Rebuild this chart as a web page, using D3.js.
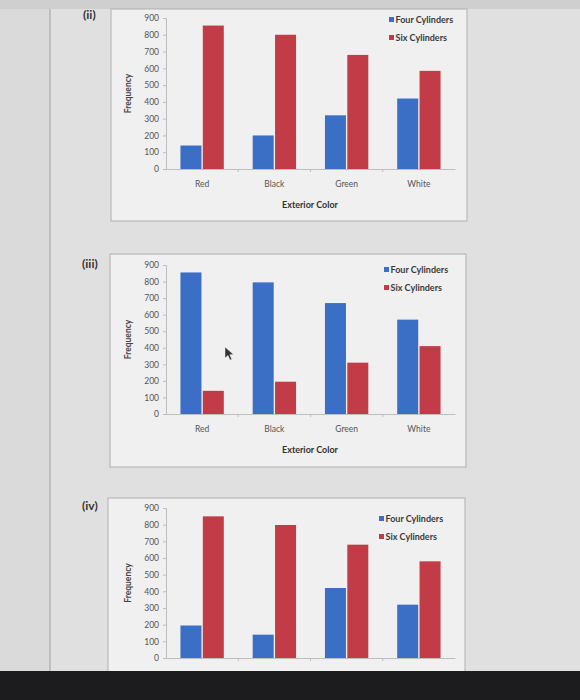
<!DOCTYPE html>
<html><head><meta charset="utf-8">
<script src="https://cdn.jsdelivr.net/npm/d3@7"></script>
<style>body{margin:0;background:#dcdcdc;} svg{display:block;}</style>
</head><body>
<svg id="c" width="580" height="700"></svg>
<script>
const categories = ["Red", "Black", "Green", "White"];
const seriesNames = ["Four Cylinders", "Six Cylinders"];
const yTicks = [0, 100, 200, 300, 400, 500, 600, 700, 800, 900];
const fourII = [140, 200, 320, 420];
const sixII = [855, 800, 680, 585];
const fourIII = [855, 795, 670, 570];
const sixIII = [140, 195, 310, 410];
const fourIV = [195, 140, 420, 320];
const sixIV = [850, 798, 680, 580];
const panelLabels = ["(ii)", "(iii)", "(iv)"];
const xTitle = "Exterior Color";
const yTitle = "Frequency";

const colors = ["#3b6fc6", "#c23c47"];
const svg = d3.select("#c");
const font = "Lato, 'Open Sans', sans-serif";

// page background (photo)
svg.append("rect").attr("width", 580).attr("height", 700).attr("fill", "#e0e0e0");
svg.append("rect").attr("x", 0).attr("y", 0).attr("width", 580).attr("height", 9).attr("fill", "#cfcfcf");
svg.append("rect").attr("x", 0).attr("y", 9).attr("width", 50).attr("height", 662).attr("fill", "#dadada");
svg.append("line").attr("x1", 50).attr("x2", 50).attr("y1", 9).attr("y2", 671).attr("stroke", "#a0a0a0").attr("stroke-width", 1);

const panels = [
  {label: panelLabels[0], four: fourII, six: sixII, box: [111, 9, 467, 221], y0: 169, y900: 18, lx: 83, ly: 19, legX: 389, legY: 23, xlab: true},
  {label: panelLabels[1], four: fourIII, six: sixIII, box: [110, 254, 466, 467], y0: 414, y900: 265, lx: 82, ly: 268, legX: 384, legY: 273, xlab: true},
  {label: panelLabels[2], four: fourIV, six: sixIV, box: [108, 498, 465, 700], y0: 658, y900: 508, lx: 82, ly: 510, legX: 379, legY: 522, xlab: false}
];

panels.forEach(p => {
  const [bx0, by0, bx1, by1] = p.box;
  const g = svg.append("g");
  g.append("rect").attr("x", bx0).attr("y", by0).attr("width", bx1 - bx0).attr("height", by1 - by0)
    .attr("fill", "#f0f0f0").attr("stroke", "#b0b0b0").attr("stroke-width", 1);
  g.append("text").attr("x", p.lx).attr("y", p.ly).text(p.label)
    .attr("font-family", font).attr("font-size", 12).attr("font-weight", "bold").attr("fill", "#333");

  const y = d3.scaleLinear().domain([0, 900]).range([p.y0, p.y900]);
  const x = d3.scaleBand().domain(categories).range([166, 455]).paddingInner(0.4).paddingOuter(0.2);
  const xs = d3.scaleBand().domain(seriesNames).range([0, x.bandwidth()]).paddingInner(0.06);

  // y axis
  const ya = g.append("g").attr("transform", "translate(166,0)")
    .call(d3.axisLeft(y).tickValues(yTicks).tickSize(3).tickPadding(4));
  ya.select(".domain").attr("stroke", "#bdbdbd");
  ya.selectAll(".tick line").attr("stroke", "#bdbdbd");
  ya.selectAll("text").attr("font-family", font).attr("font-size", 8.5).attr("fill", "#555");

  // x axis
  const xa = g.append("g").attr("transform", `translate(0,${p.y0})`)
    .call(d3.axisBottom(x).tickSize(0).tickPadding(p.xlab ? 12 : 0).tickFormat(p.xlab ? null : ""));
  xa.select(".domain").attr("stroke", "#bdbdbd");
  xa.selectAll("text").attr("font-family", font).attr("font-size", 8.5).attr("fill", "#555");
  // small boundary ticks
  g.selectAll(".bt").data(categories.slice(1)).join("line")
    .attr("x1", d => x(d) - x.step() * x.paddingInner() / 2).attr("x2", d => x(d) - x.step() * x.paddingInner() / 2)
    .attr("y1", p.y0).attr("y2", p.y0 + 3).attr("stroke", "#bdbdbd");

  // bars
  const data = [];
  categories.forEach((c, i) => {
    data.push({c, s: seriesNames[0], v: p.four[i]});
    data.push({c, s: seriesNames[1], v: p.six[i]});
  });
  g.selectAll(".bar").data(data).join("rect")
    .attr("x", d => x(d.c) + xs(d.s)).attr("width", xs.bandwidth())
    .attr("y", d => y(d.v)).attr("height", d => y(0) - y(d.v))
    .attr("fill", d => colors[seriesNames.indexOf(d.s)]);

  // titles
  const yMid = (p.y0 + p.y900) / 2;
  g.append("text").attr("transform", `translate(131,${yMid}) rotate(-90)`).attr("text-anchor", "middle")
    .text(yTitle).attr("font-family", font).attr("font-size", 8.5).attr("font-weight", "bold").attr("fill", "#444");
  if (p.xlab) {
    g.append("text").attr("x", 310).attr("y", p.y0 + 39).attr("text-anchor", "middle").text(xTitle)
      .attr("font-family", font).attr("font-size", 9).attr("font-weight", "bold").attr("fill", "#333");
  }

  // legend
  seriesNames.forEach((s, i) => {
    g.append("rect").attr("x", p.legX).attr("y", p.legY - 6 + i * 18).attr("width", 5).attr("height", 5).attr("fill", colors[i]);
    g.append("text").attr("x", p.legX + 6.5).attr("y", p.legY + i * 18).text(s)
      .attr("font-family", font).attr("font-size", 9).attr("font-weight", "bold").attr("fill", "#3a3a3a");
  });
});

// mouse cursor in panel (iii)
svg.append("path").attr("d", "M225,347 L225,358 L228,355.5 L230,360 L231.8,359.2 L229.8,354.8 L233.5,354.5 Z")
  .attr("fill", "#333").attr("stroke", "#eee").attr("stroke-width", 0.5);

// dark band at bottom of the photo
svg.append("rect").attr("x", 0).attr("y", 671).attr("width", 580).attr("height", 29).attr("fill", "#1c1c1e");
</script>
</body></html>
